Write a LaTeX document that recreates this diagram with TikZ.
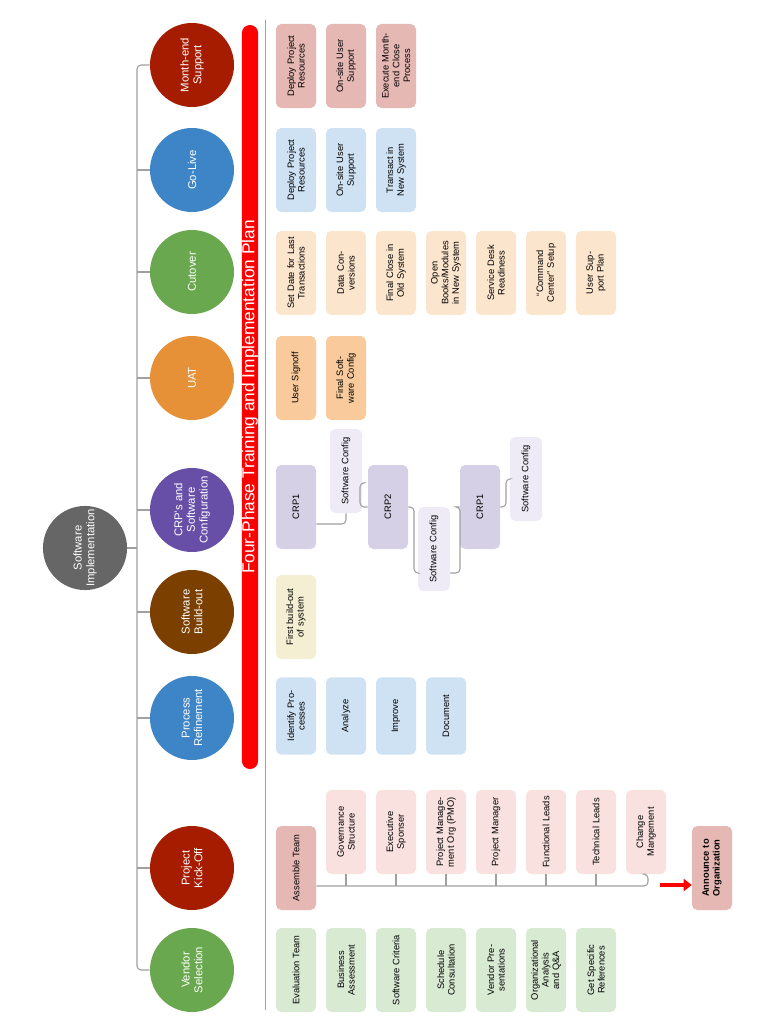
\documentclass[tikz,border=0pt]{standalone}
\usepackage{fontspec}
\setmainfont{Liberation Sans}
\usetikzlibrary{arrows.meta}
\definecolor{cgreen}{HTML}{6AA84F}
\definecolor{cred}{HTML}{A61C00}
\definecolor{cblue}{HTML}{3D85C6}
\definecolor{cbrown}{HTML}{7B3F00}
\definecolor{cpurple}{HTML}{674EA7}
\definecolor{corange}{HTML}{E69138}
\definecolor{cgray}{HTML}{666666}
\definecolor{fgreen}{HTML}{D9EAD3}
\definecolor{fpink}{HTML}{F8E1DE}
\definecolor{fpinkd}{HTML}{E6B8B3}
\definecolor{fblue}{HTML}{CFE2F3}
\definecolor{fyellow}{HTML}{F4EED3}
\definecolor{fpurple}{HTML}{D5D0E5}
\definecolor{fpurplel}{HTML}{EEEBF7}
\definecolor{forange}{HTML}{F9CB9C}
\definecolor{fpeach}{HTML}{FCE5CD}
\definecolor{lgray}{HTML}{A0A0A0}
\begin{document}
\begin{tikzpicture}[x=0.75pt,y=-0.75pt]
   \tikzstyle{every node}=[font=\fontsize{7}{8}\selectfont]
   \tikzstyle{phase}=[circle, minimum size=63pt, inner sep=1pt, text=white, align=center,
      rotate=90, font=\fontsize{8.5}{9.5}\selectfont]
   \tikzstyle{task}=[rounded corners=4pt, minimum width=63pt, minimum height=30pt,
      text width=56pt, align=center, inner sep=1pt, rotate=90]
   \tikzstyle{link}=[draw=lgray, line width=0.8pt, rounded corners=3pt]

   \useasboundingbox (0,0) rectangle (768,1024);

   % phases
   \node[phase, fill=cgray] (impl) at (85,548) {Software\\Implementation};
   \node[phase, fill=cgreen] (vendor) at (192,970) {Vendor\\Selection};
   \node[phase, fill=cred] (kickoff) at (192,868) {Project\\Kick-Off};
   \node[phase, fill=cblue] (process) at (192,718) {Process\\Refinement};
   \node[phase, fill=cbrown] (build) at (192,612) {Software\\Build-out};
   \node[phase, fill=cpurple] (crp) at (192,510) {CRP's and\\Software\\Configuration};
   \node[phase, fill=corange] (uat) at (192,378) {UAT};
   \node[phase, fill=cgreen] (cutover) at (192,272) {Cutover};
   \node[phase, fill=cblue] (golive) at (192,170) {Go-Live};
   \node[phase, fill=cred] (monthend) at (192,65) {Month-end\\Support};

   \coordinate (trunk) at (137,548);
   \draw[link] (impl.south) -- (trunk);
   \draw[link] (vendor.north) -| (trunk) |- (monthend.north);
   \foreach \p in {kickoff,process,build,crp,uat,cutover,golive}
      \draw[link] (\p.north) -- (137,0 |- \p.north);

   % title bar
   \node[fill=red, rounded corners=6pt, minimum width=558pt, minimum height=12pt, inner sep=0pt,
      rotate=90, text=white, font=\fontsize{13}{14}\selectfont] (title) at (250,397)
      {Four-Phase Training and Implementation Plan};
   \draw[lgray, line width=0.6pt] (265,20) coordinate (sepA) -- (265,1010) coordinate (sepB);

   % vendor selection
   \foreach \t [count=\i from 0] in {Evaluation Team,Business Assessment,Software Criteria,
      Schedule Consultation,Vendor Presentations,Organizational Analysis and Q\&A,Get Specific References}
      \node[task, fill=fgreen] (ven\i) at (296+50*\i,970) {\t};

   % kick-off
   \node[task, fill=fpinkd] (assemble) at (296,868) {Assemble Team};
   \foreach \t [count=\i] in {Governance Structure,Executive Sponser,Project Management Org (PMO),
      Project Manager,Functional Leads,Technical Leads,Change Mangement}
      \node[task, fill=fpink] (kick\i) at (296+50*\i,832) {\t};
   \coordinate (kickend) at (648,886);
   \draw[link] (assemble.south |- kickend) -- (kickend) |- (kick7.west);
   \foreach \i in {1,...,6}
      \draw[link] (kick\i.west) -- (kick\i.west |- kickend);
   \node[task, fill=fpinkd, font=\fontsize{7}{8}\selectfont\bfseries] (announce) at (712,868)
      {Announce to Organization};
   \draw[red, line width=3pt, -{Triangle[length=6pt,width=9pt]}] (660,885) -- (announce.north |- 0,885);

   % process refinement
   \foreach \t [count=\i from 0] in {Identify Processes,Analyze,Improve,Document}
      \node[task, fill=fblue, minimum width=43pt] (proc\i) at (296+50*\i,716) {\t};

   % build-out
   \node[task, fill=fyellow] (buildA) at (296,617) {First build-out of system};

   % CRP
   \node[task, fill=fpurple] (crpA) at (296,507) {CRP1};
   \node[task, fill=fpurplel, minimum height=24pt] (cfgA) at (346,471) {Software Config};
   \node[task, fill=fpurple] (crpB) at (388,507) {CRP2};
   \node[task, fill=fpurplel, minimum height=24pt] (cfgB) at (434,549) {Software Config};
   \node[task, fill=fpurple] (crpC) at (480,507) {CRP1};
   \node[task, fill=fpurplel, minimum height=24pt] (cfgC) at (526,479) {Software Config};
   \draw[link] (crpA.south |- 0,524) -| (cfgA.west);
   \draw[link] (cfgA.south |- 0,483) -| (360,507) -- (crpB.north);
   \draw[link] (crpB.south) -| (414,573) -- (cfgB.north |- 0,573);
   \draw[link] (cfgB.south |- 0,573) -| (460,507) -- (crpC.north);
   \draw[link] (crpC.south) -| (506,479) -- (cfgC.north);

   % UAT
   \node[task, fill=forange] (uatA) at (296,378) {User Signoff};
   \node[task, fill=forange] (uatB) at (346,378) {Final Software Config};

   % cutover
   \foreach \t [count=\i from 0] in {Set Date for Last Transactions,Data Conversions,Final Close in Old System,
      Open Books/Modules in New System,Service Desk Readiness,``Command Center'' Setup,User Support Plan}
      \node[task, fill=fpeach] (cut\i) at (296+50*\i,273) {\t};

   % go-live
   \foreach \t [count=\i from 0] in {Deploy Project Resources,On-site User Support,Transact in New System}
      \node[task, fill=fblue] (go\i) at (296+50*\i,170) {\t};

   % month-end
   \foreach \t [count=\i from 0] in {Deploy Project Resources,On-site User Support,Execute Month-end Close Process}
      \node[task, fill=fpinkd] (mon\i) at (296+50*\i,66) {\t};
\end{tikzpicture}
\end{document}
